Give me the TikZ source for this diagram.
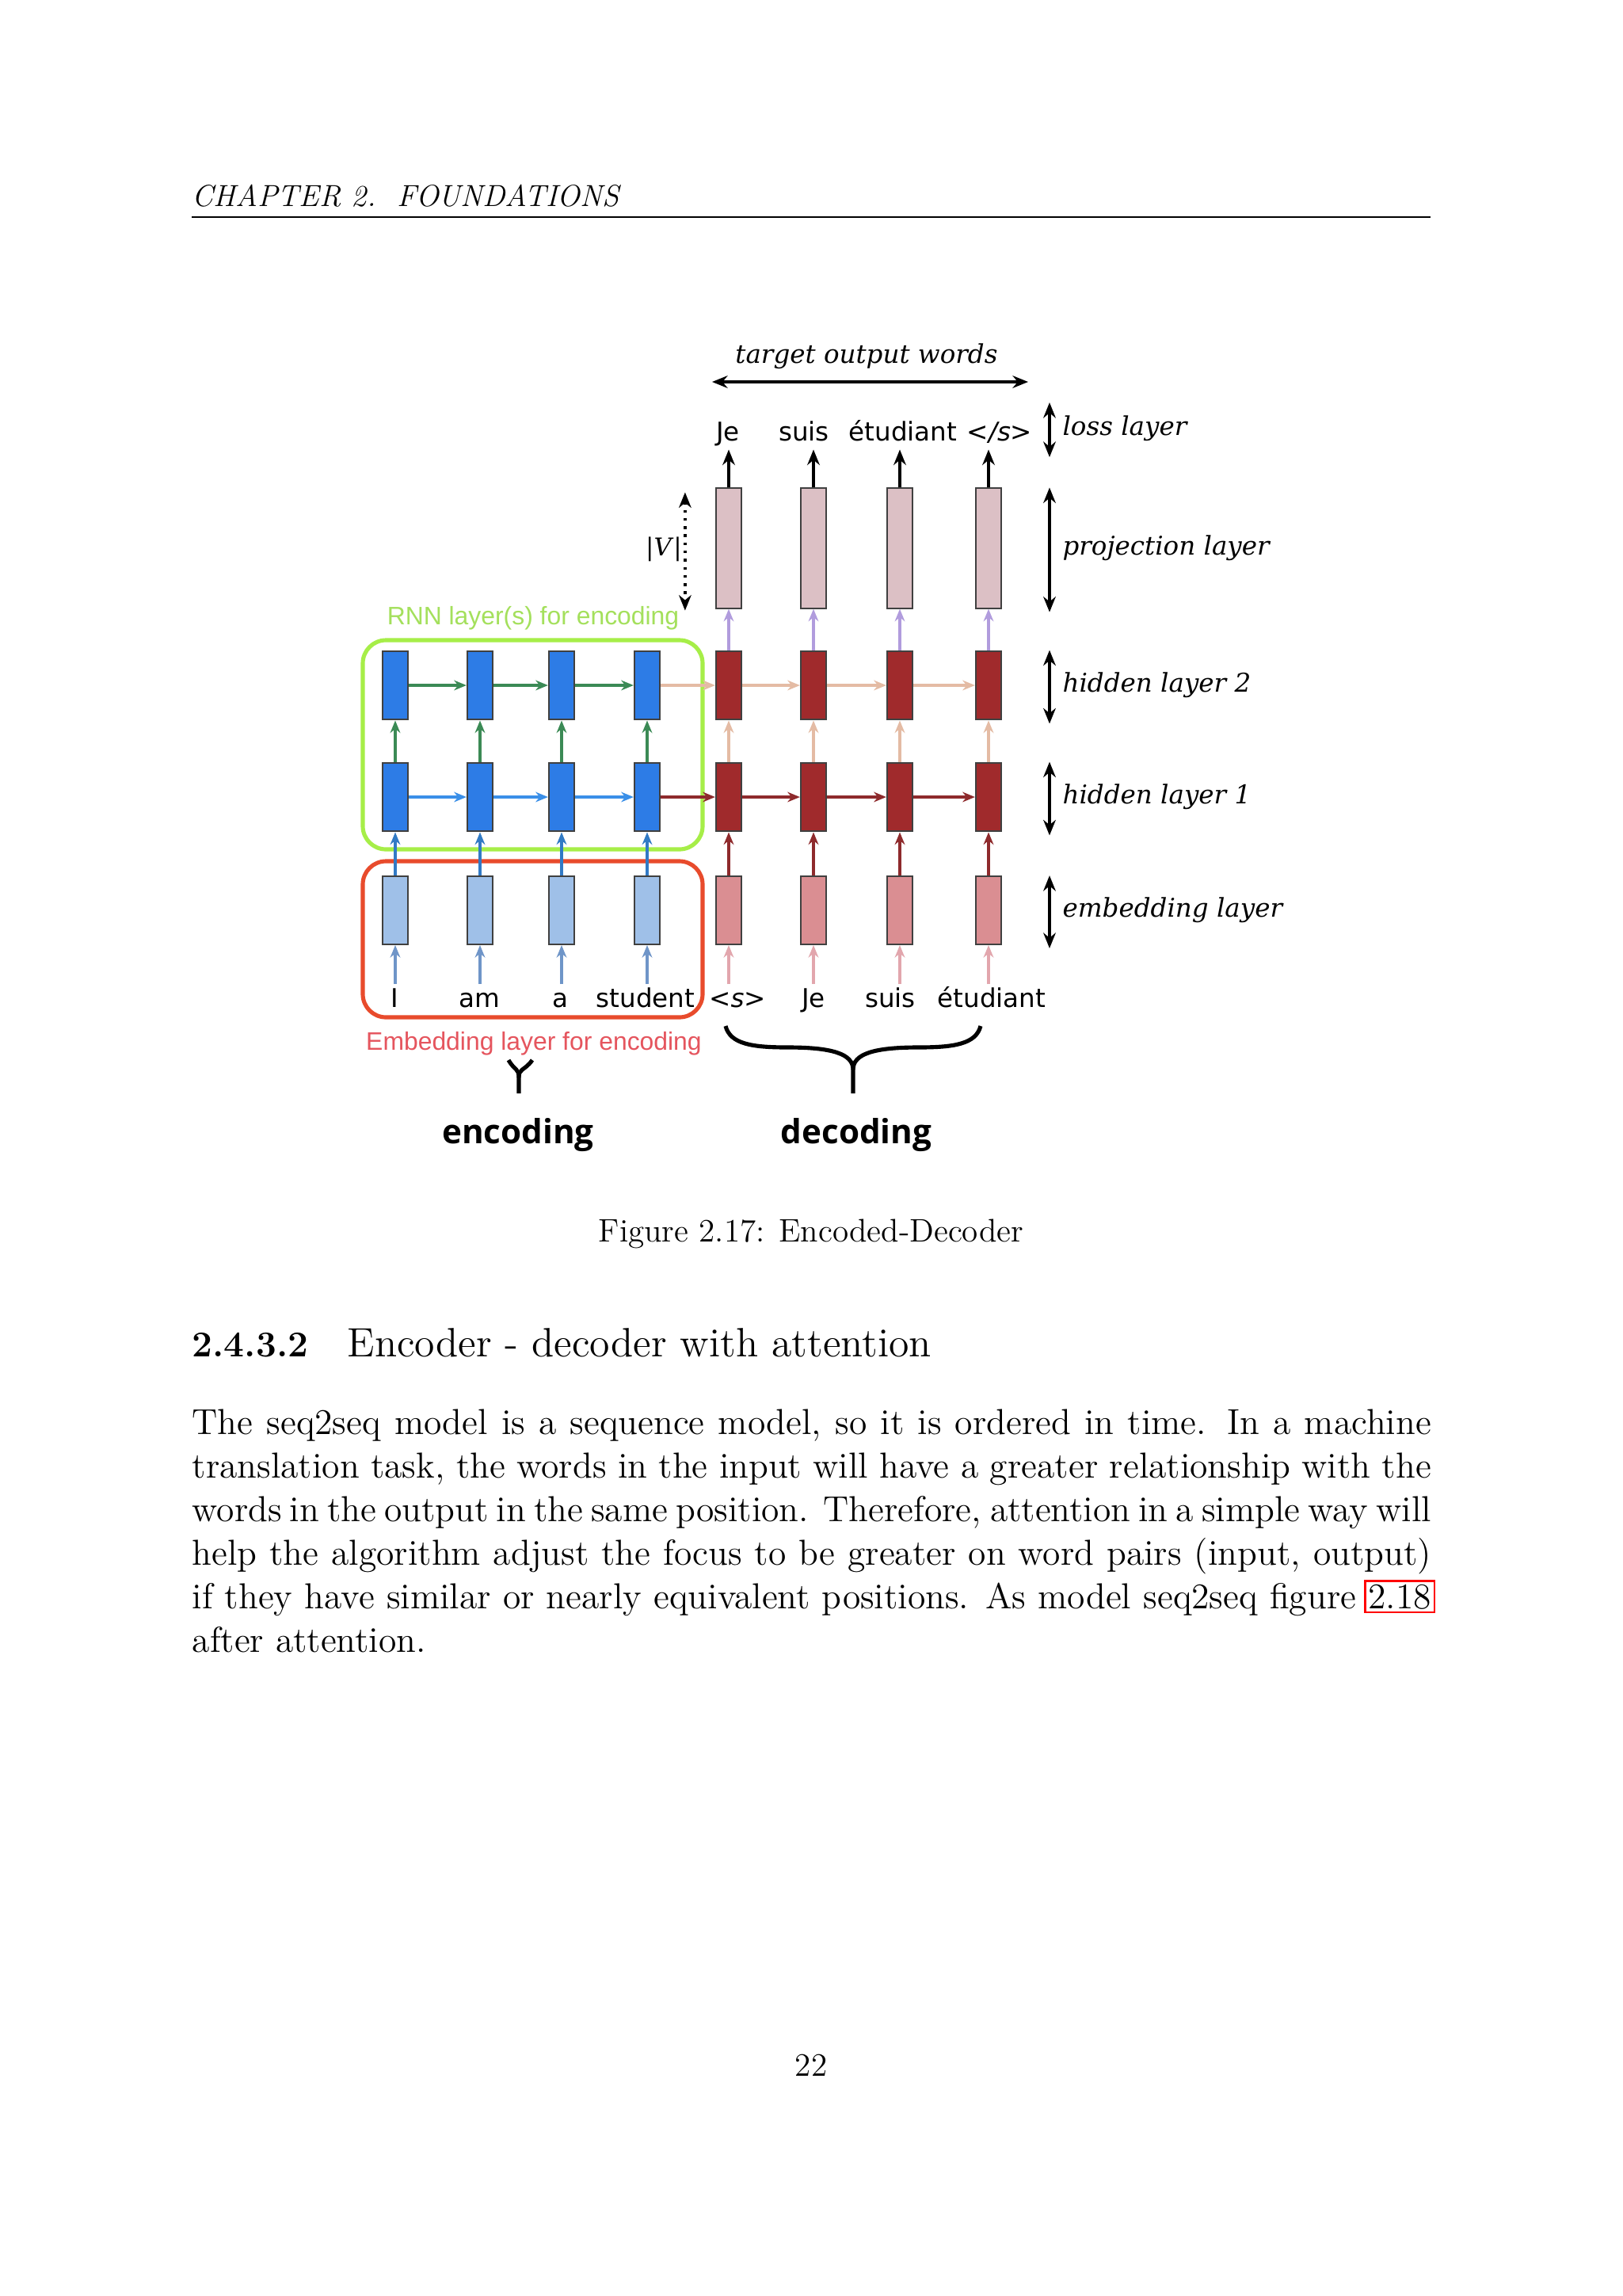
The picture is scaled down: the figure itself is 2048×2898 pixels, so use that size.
\documentclass[tikz,border=0pt]{standalone}
\usepackage{fontspec}
\usepackage{xcolor}
\usepackage{tikz}
\usetikzlibrary{arrows.meta, positioning, calc}

\newfontfamily\wordfont{DejaVu Sans}
\newfontfamily\layerfont{DejaVu Serif}
\newfontfamily\tagfont{Liberation Sans}
\newfontfamily\partfont{Open Sans}
\newfontfamily\headfont{lmroman12-regular}[Extension=.otf]

\definecolor{encblue}{HTML}{2D7CE6}
\definecolor{embblue}{HTML}{9FC0E8}
\definecolor{decred}{HTML}{A02A2C}
\definecolor{embpink}{HTML}{DA8E92}
\definecolor{projpink}{HTML}{DCC0C5}
\definecolor{arrgreen}{HTML}{3B8A55}
\definecolor{arrblue}{HTML}{3A8FE8}
\definecolor{arrsteel}{HTML}{6F95C8}
\definecolor{arrpeach}{HTML}{E4BBA4}
\definecolor{arrred}{HTML}{8E2A2C}
\definecolor{arrpink}{HTML}{E2A6AD}
\definecolor{arrpurple}{HTML}{B19CDD}
\definecolor{rnngreen}{HTML}{A6EE48}
\definecolor{embframe}{HTML}{E84B2C}
\definecolor{rnntext}{HTML}{A4E05C}
\definecolor{embtext}{HTML}{E5555E}

\begin{document}
\begin{tikzpicture}[
    x=0.10254mm, y=-0.10254mm,
    every node/.style={font=\fontsize{12}{14.5}\selectfont},
    bodytext/.style={anchor=base west, inner sep=0pt,
                     font=\fontsize{13.3}{16}\selectfont},
    cell/.style={draw=black!75, line width=0.6pt, minimum width=3.3mm,
                 inner sep=0pt},
    hidcell/.style={cell, minimum height=8.9mm},
    embcell/.style={cell, minimum height=8.8mm},
    projcell/.style={cell, minimum height=15.5mm, fill=projpink},
    word/.style={font=\wordfont\fontsize{9.5}{11}\selectfont,
                 text height=2.6mm, text depth=0.8mm, inner sep=0.3mm,
                 anchor=base},
    layerlab/.style={font=\layerfont\itshape\fontsize{9.5}{11}\selectfont,
                     inner sep=0.5mm},
    framelab/.style={font=\tagfont\fontsize{9.3}{11}\selectfont,
                     anchor=base, inner sep=0pt},
    partlab/.style={font=\partfont\bfseries\fontsize{12.3}{14}\selectfont,
                    anchor=base, inner sep=0pt},
    flow/.style={-{Stealth[length=1.6mm, width=1.3mm]}, line width=0.95pt},
    outflow/.style={-{Stealth[length=2mm, width=1.6mm]}, line width=1.2pt},
    dblarrow/.style={{Stealth[length=2mm, width=1.6mm]}-{Stealth[length=2mm, width=1.6mm]},
                     line width=1pt},
    brace/.style={line width=1.5pt},
    frame/.style={line width=1.5pt, rounded corners=3mm}
  ]
  \fill[white] (0,0) rectangle (2048,2898);
  \useasboundingbox (0,0) rectangle (2048,2898);

  % page head
  \node[anchor=base west, inner sep=0pt, font=\fontsize{11.2}{14}\selectfont\itshape]
    (head) at (242,260) {CHAPTER 2.\ \ FOUNDATIONS};
  \draw[line width=0.5pt] (242,274) -- (1806,274);

  % frames
  \draw[frame, rnngreen] (458,808) rectangle (887,1072);
  \draw[frame, embframe] (458,1087) rectangle (887,1284);
  \node[framelab, rnntext] (rnnLab) at (673,788) {RNN layer(s) for encoding};
  \node[framelab, embtext] (embLab) at (674,1325) {Embedding layer for encoding};

  % encoder
  \foreach \x [count=\i] in {499,606,709,817} {
    \node[embcell, fill=embblue] (embE\i) at (\x,1149) {};
    \node[hidcell, fill=encblue] (h1E\i) at (\x,1006) {};
    \node[hidcell, fill=encblue] (h2E\i) at (\x,865) {};
  }
  % decoder
  \foreach \x [count=\i] in {920,1027,1136,1248} {
    \node[embcell, fill=embpink] (embD\i) at (\x,1149) {};
    \node[hidcell, fill=decred] (h1D\i) at (\x,1006) {};
    \node[hidcell, fill=decred] (h2D\i) at (\x,865) {};
    \node[projcell] (projD\i) at (\x,692) {};
  }

  % words
  \foreach \x/\w [count=\i] in {498/I, 605/am, 707/a, 815/student}
    \node[word] (inE\i) at (\x,1271) {\w};
  \foreach \x/\w [count=\i] in {931/{<\textit{s}>}, 1027/Je, 1124/suis, 1252/étudiant}
    \node[word] (inD\i) at (\x,1271) {\w};
  \foreach \x/\w [count=\i] in {919/Je, 1015/suis, 1140/étudiant, 1262/{<\textit{/s}>}}
    \node[word] (outD\i) at (\x,556) {\w};

  % vertical connectors
  \foreach \i in {1,...,4} {
    \draw[flow, arrsteel] (embE\i.south |- inE\i.north) -- (embE\i.south);
    \draw[flow, arrblue!85!black] (embE\i) -- (h1E\i);
    \draw[flow, arrgreen] (h1E\i) -- (h2E\i);
    \draw[flow, arrpink] (embD\i.south |- inD\i.north) -- (embD\i.south);
    \draw[flow, arrred] (embD\i) -- (h1D\i);
    \draw[flow, arrpeach] (h1D\i) -- (h2D\i);
    \draw[flow, arrpurple] (h2D\i) -- (projD\i);
    \draw[outflow] (projD\i) -- (projD\i.north |- outD\i.south);
  }
  % horizontal connectors
  \foreach \a/\b in {1/2, 2/3, 3/4} {
    \draw[flow, arrblue] (h1E\a) -- (h1E\b);
    \draw[flow, arrgreen] (h2E\a) -- (h2E\b);
    \draw[flow, arrred] (h1D\a) -- (h1D\b);
    \draw[flow, arrpeach] (h2D\a) -- (h2D\b);
  }
  \draw[flow, arrred] (h1E4) -- (h1D1);
  \draw[flow, arrpeach] (h2E4) -- (h2D1);

  % |V|
  \draw[dblarrow, dotted] ($(projD1.north west)+(-38,6)$) -- ($(projD1.south west)+(-38,2)$);
  \node[font=\layerfont\fontsize{9}{11}\selectfont] (vocab) at (838,693) {|\textit{V}|};

  % target words
  \node[layerlab] (tgtLab) at (1094,450) {target output words};
  \coordinate (tgtL) at (899,482);
  \coordinate (tgtR) at (1298,482);
  \draw[dblarrow] (tgtL) -- (tgtR);

  % layer labels
  \coordinate (lossTop) at (1325,508);
  \coordinate (lossBot) at (1325,577);
  \draw[dblarrow] (lossTop) -- (lossBot);
  \node[layerlab, anchor=west] (lossLab) at (1336,541) {loss layer};
  \foreach \r/\t in {projD4/projection layer, h2D4/hidden layer 2,
                     h1D4/hidden layer 1, embD4/embedding layer} {
    \draw[dblarrow] ($(\r.north)+(77,0)$) -- ($(\r.south)+(77,4)$);
    \node[layerlab, anchor=west] at ($(\r.center)+(88,0)$) {\t};
  }

  % braces
  \draw[brace] (642,1338) .. controls (650,1352) and (655,1348) .. (655,1360) -- (655,1380);
  \draw[brace] (672,1338) .. controls (662,1352) and (655,1348) .. (655,1360);
  \draw[brace] (916,1295) .. controls (922,1318) and (950,1322) .. (995,1322)
    .. controls (1050,1322) and (1077,1330) .. (1077,1350) -- (1077,1380);
  \draw[brace] (1238,1295) .. controls (1232,1318) and (1204,1322) .. (1159,1322)
    .. controls (1104,1322) and (1077,1330) .. (1077,1350);
  \node[partlab] (encLab) at (654,1443) {encoding};
  \node[partlab] (decLab) at (1081,1443) {decoding};

  % caption and text
  \node[anchor=base, inner sep=0pt] (cap) at (1024,1567) {Figure 2.17: Encoded-Decoder};
  \node[anchor=base west, inner sep=0pt, font=\fontsize{13.4}{17}\selectfont\bfseries]
    (secNum) at (242,1712) {2.4.3.2};
  \node[anchor=base west, inner sep=0pt, font=\headfont\fontsize{15.1}{18}\selectfont]
    (secTitle) at (438,1712) {Encoder - decoder with attention};
  \foreach \t [count=\i] in {
      {The seq2seq model is a sequence model, so it is ordered in time.  In a machine},
      {translation task, the words in the input will have a greater relationship with the},
      {words in the output in the same position.  Therefore, attention in a simple way will},
      {help the algorithm adjust the focus to be greater on word pairs (input, output)},
      {if they have similar or nearly equivalent positions.  As model seq2seq figure
       \rlap{\hspace{-1.6pt}\color{red}\fboxrule=0.8pt\fboxsep=0.8pt\fbox{\phantom{2.18}}}2.18}}
    \node[bodytext] (line\i) at ({242},{1755+55*\i})
      {\makebox[160.4mm][s]{\t}};
  \node[bodytext] (line6) at (242,2085) {after attention.};
  \node[anchor=base, inner sep=0pt] (pageNo) at (1024,2620) {22};
\end{tikzpicture}
\end{document}
